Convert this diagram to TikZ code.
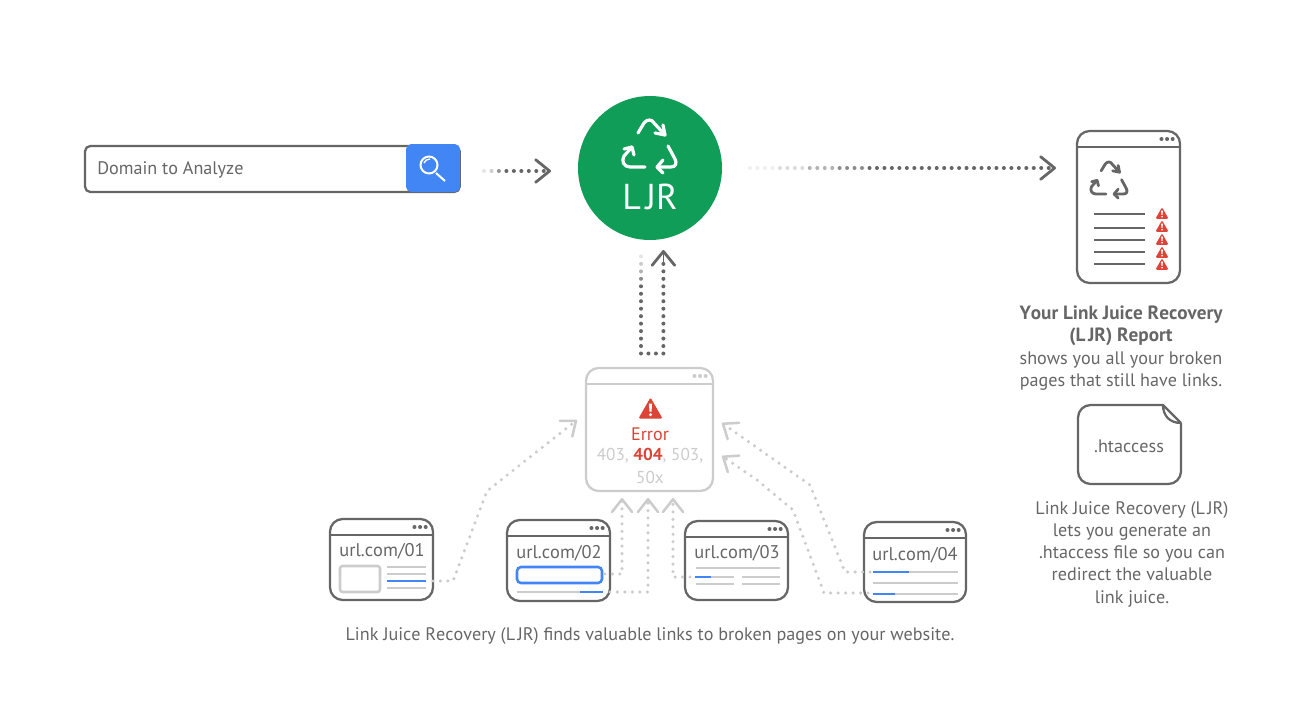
\documentclass[tikz,border=0pt]{standalone}
\usepackage{fontspec}
\setmainfont[Kerning=Off]{PT Sans}
\usetikzlibrary{arrows.meta,positioning}

\definecolor{wingray}{HTML}{666666}
\definecolor{palegray}{HTML}{CCCCCC}
\definecolor{ljrgreen}{HTML}{0F9D58}
\definecolor{urlblue}{HTML}{4285F4}
\definecolor{warnred}{HTML}{DB4437}

\tikzstyle{winbox} = [draw=wingray, fill=white, line width=1.7pt, rectangle, rounded corners=9.5pt, inner sep=0pt, outer sep=0pt, anchor=north west]
\tikzstyle{txt} = [text=wingray, font=\fontsize{13.6}{16.7}\selectfont, inner sep=0pt, align=center]
\tikzstyle{urltxt} = [txt, font=\fontsize{13.8}{16.5}\selectfont]
\tikzstyle{rule} = [line width=2.2pt, palegray]
\tikzstyle{bluerule} = [line width=2.2pt, urlblue]
\tikzstyle{darkdots} = [wingray, line width=3pt, line cap=round, dash pattern=on 0pt off 5.6pt]
\tikzstyle{greydots} = [palegray, line width=2.6pt, line cap=round, dash pattern=on 0pt off 5.6pt]
\tikzstyle{chevron} = [-{Straight Barb[length=10.5pt,width=17pt,line width=2.1pt,round]}]
\tikzstyle{smallchevron} = [-{Straight Barb[length=9.5pt,width=15pt,line width=1.9pt,round]}]

\newcommand{\ljrname}{L\kern.13em JR}

% window with a title bar and three dots
\newcommand{\webwin}[6][wingray]{%
  \node[winbox, draw=#1, minimum width=#5*0.75pt, minimum height=#6*0.75pt] (#2) at (#3,#4) {};
  \draw[#1, line width=1.7pt] ([yshift=-12pt]#2.north west) -- ([yshift=-12pt]#2.north east);
  \foreach \d in {5.5,9.7,13.9} \fill[#1] ([xshift=-\d pt,yshift=-6pt]#2.north east) circle (1.5pt);
}
% warning sign
\newcommand{\warnsign}[3]{%
  \begin{scope}[shift={(#1,#2)},scale=#3]
    \fill[warnred, rounded corners=1pt] (-12,10.5) -- (0,-10.5) -- (12,10.5) -- cycle;
    \fill[white] (-1.6,-4.5) -- (1.6,-4.5) -- (1,3.5) -- (-1,3.5) -- cycle (0,6.7) circle (1.7);
  \end{scope}
}
% the three bent arrows
\newcommand{\recycle}[4]{%
  \begin{scope}[shift={(#1,#2)},scale=#3, #4, line cap=round, line join=round]
    \draw (-13,-12) -- (-7,-22) .. controls (-4,-26) and (1,-26) .. (3,-22) -- (14,-10);
    \draw (4,-12) -- (14,-10) -- (12,-20);
    \draw (-6,22) -- (-21,22) .. controls (-27,22) and (-30,16) .. (-27,11) -- (-19,2);
    \draw (-27,4) -- (-19,2) -- (-17,10);
    \draw (17,1) -- (24,14) .. controls (26,18) and (25,22) .. (20,22) -- (6,22);
    \draw (12,15) -- (6,22) -- (12,28);
  \end{scope}
}

\begin{document}
\begin{tikzpicture}[x=0.75pt,y=-0.75pt]
\useasboundingbox (0,0) rectangle (1289,714);

% search bar
\node[winbox, rounded corners=4pt, minimum width=281pt, minimum height=34.5pt] (bar) at (85,146) {};
\fill[urlblue, rounded corners=4pt] (406,144) rectangle (460,192);
\node[txt, anchor=west] (domain) at (97,170) {Domain to Analyze};
\draw[white, line width=1.5pt] (429,165) circle (8.5) (436,173) -- (445,181);
\draw[white, line width=1pt] (424,163) to[bend left=35] (430,159);

% green circle
\node[circle, fill=ljrgreen, minimum size=108pt, inner sep=0pt] (ljr) at (650,168) {};
\recycle{651}{145}{1}{white, line width=2.4pt}
\node[text=white, font=\fontsize{27}{27}\selectfont, inner sep=0pt] (ljrtxt) at (650,197) {\ljrname};

% report
\webwin{report}{1077}{131}{103}{152}
\recycle{1110}{179}{0.68}{wingray, line width=2.1pt}
\foreach \y in {214,228,240,252,264} {
  \draw[wingray, line width=2.05pt] (1094,\y) -- (1145,\y);
}
\foreach \y in {213,226,239,252,264} {
  \warnsign{1162}{\y}{0.55}
}
\node[txt] (reporttxt) at (1121,348) {{\fontsize{14.4}{16.7}\selectfont\bfseries Your Link Juice Recovery}\\{\fontsize{14.4}{16.7}\selectfont\bfseries (\ljrname) Report}\\shows you all your broken\\pages that still have links.};

% htaccess file
\draw[wingray, line width=1.7pt, rounded corners=9.5pt] (1163,405) -- (1078,405) -- (1078,484) -- (1181,484) -- (1181,423);
\draw[wingray, line width=1.7pt, line join=round] (1181,423) -- (1163,405) .. controls (1163,416) and (1170,423) .. (1181,423);
\node[txt] (filetxt) at (1129,446) {.htaccess};
\node[txt] (filenote) at (1132,554) {Link Juice Recovery (\ljrname)\\lets you generate an\\.htaccess file so you can\\redirect the valuable\\link juice.};

% error window
\webwin[palegray]{err}{586}{368}{127}{123}
\warnsign{650.5}{408}{1}
\node[txt, text=warnred] (errtxt) at (650,434) {Error};
\node[txt, text=palegray, font=\fontsize{12.9}{16.7}\selectfont] (codes) at (650,466) {403, \textcolor{warnred}{\textbf{404}}, 503,\\50x};

% url windows
\webwin{url1}{330}{519}{103}{81}
\node[urltxt] (urla) at (382,551) {url.com/01};
\draw[palegray, line width=1.9pt, rounded corners=2pt] (340,566) rectangle (380,592);
\draw[rule] (387,567) -- (426,567) (387,574) -- (426,574) (387,588) -- (426,588);
\draw[bluerule] (387,581) -- (426,581);

\webwin{url2}{507}{520}{103}{81}
\node[urltxt] (urlb) at (559,553) {url.com/02};
\draw[urlblue, line width=1.9pt, rounded corners=3pt] (517,567) rectangle (602,583);
\draw[rule] (517,592) -- (603,592);
\draw[bluerule] (580,592) -- (603,592);

\webwin{url3}{685}{521}{103}{79}
\node[urltxt] (urlc) at (737,553) {url.com/03};
\draw[rule] (696,568) -- (780,568) (695,577) -- (734,577) (742,577) -- (780,577) (696,584) -- (734,584) (742,584) -- (780,584);
\draw[bluerule] (695,577) -- (711,577);

\webwin{url4}{864}{522}{102}{80}
\node[urltxt] (urld) at (915,555) {url.com/04};
\draw[rule] (873,572) -- (958,572) (873,583) -- (958,583) (873,594) -- (958,594);
\draw[bluerule] (873,572) -- (909,572);
\draw[bluerule] (873,594) -- (895,594);

\node[txt] (caption) at (650,636) {Link Juice Recovery (\ljrname) finds valuable links to broken pages on your website.};

% free ends of the connectors
\coordinate (barout) at (484,171);
\coordinate (ljrin) at (551,171);
\coordinate (ljrout) at (750,168);
\coordinate (repin) at (1056,168);
\coordinate (upa) at (641,256.4);
\coordinate (upb) at (641,353.5);
\coordinate (upc) at (663.4,353.5);
\coordinate (upd) at (663.4,250);
\coordinate (ina) at (577,420);
\coordinate (inb) at (622,498);
\coordinate (inc) at (648,498);
\coordinate (ind) at (673,498);
\coordinate (ine) at (722,423);
\coordinate (inf) at (722,456);

% top arrows
\draw[darkdots, palegray!50] (barout) -- ++(1,0);
\draw[darkdots, palegray] (491.5,171) -- ++(1,0);
\draw[darkdots, wingray!70] (498.9,171) -- ++(1,0);
\draw[darkdots, chevron] (506.4,171) -- (ljrin);
\draw[darkdots, palegray!30] (ljrout) -- ++(23,0);
\draw[darkdots, palegray!70] (779.9,168) -- ++(23,0);
\draw[darkdots, wingray!50] (809.8,168) -- ++(23,0);
\draw[darkdots, wingray!75] (839.6,168) -- ++(23,0);
\draw[darkdots, chevron] (869.5,168) -- (repin);

% up arrow out of the error window
\draw[darkdots, palegray!50] (upa) -- ++(0,1);
\draw[darkdots, palegray] (641,263.9) -- ++(0,1);
\draw[darkdots, wingray!50] (641,271.4) -- ++(0,1);
\draw[darkdots, wingray!75] (641,278.8) -- ++(0,1);
\draw[darkdots] (641,286.3) -- (upb) -- (upc) -- (upd |- 0,262);
\draw[chevron, wingray] (upc |- 0,262) -- (upd);

% grey arrows into the error window
\draw[greydots, smallchevron] (url1.east |- 0,581) -- (453,581) -- (487,491) -- (ina);
\draw[greydots, smallchevron] (605,574) -- (622,574) -- (inb);
\draw[greydots, smallchevron] (url2.east |- 0,592) -- (648,592) -- (inc);
\draw[greydots, smallchevron] (690,577) -- (673,577) -- (ind);
\draw[greydots, smallchevron] (870,572) -- (845,572) -- (810,485) -- (ine);
\draw[greydots, smallchevron] (868,593) -- (824,593) -- (793,510) -- (757,480) -- (inf);
\end{tikzpicture}
\end{document}
